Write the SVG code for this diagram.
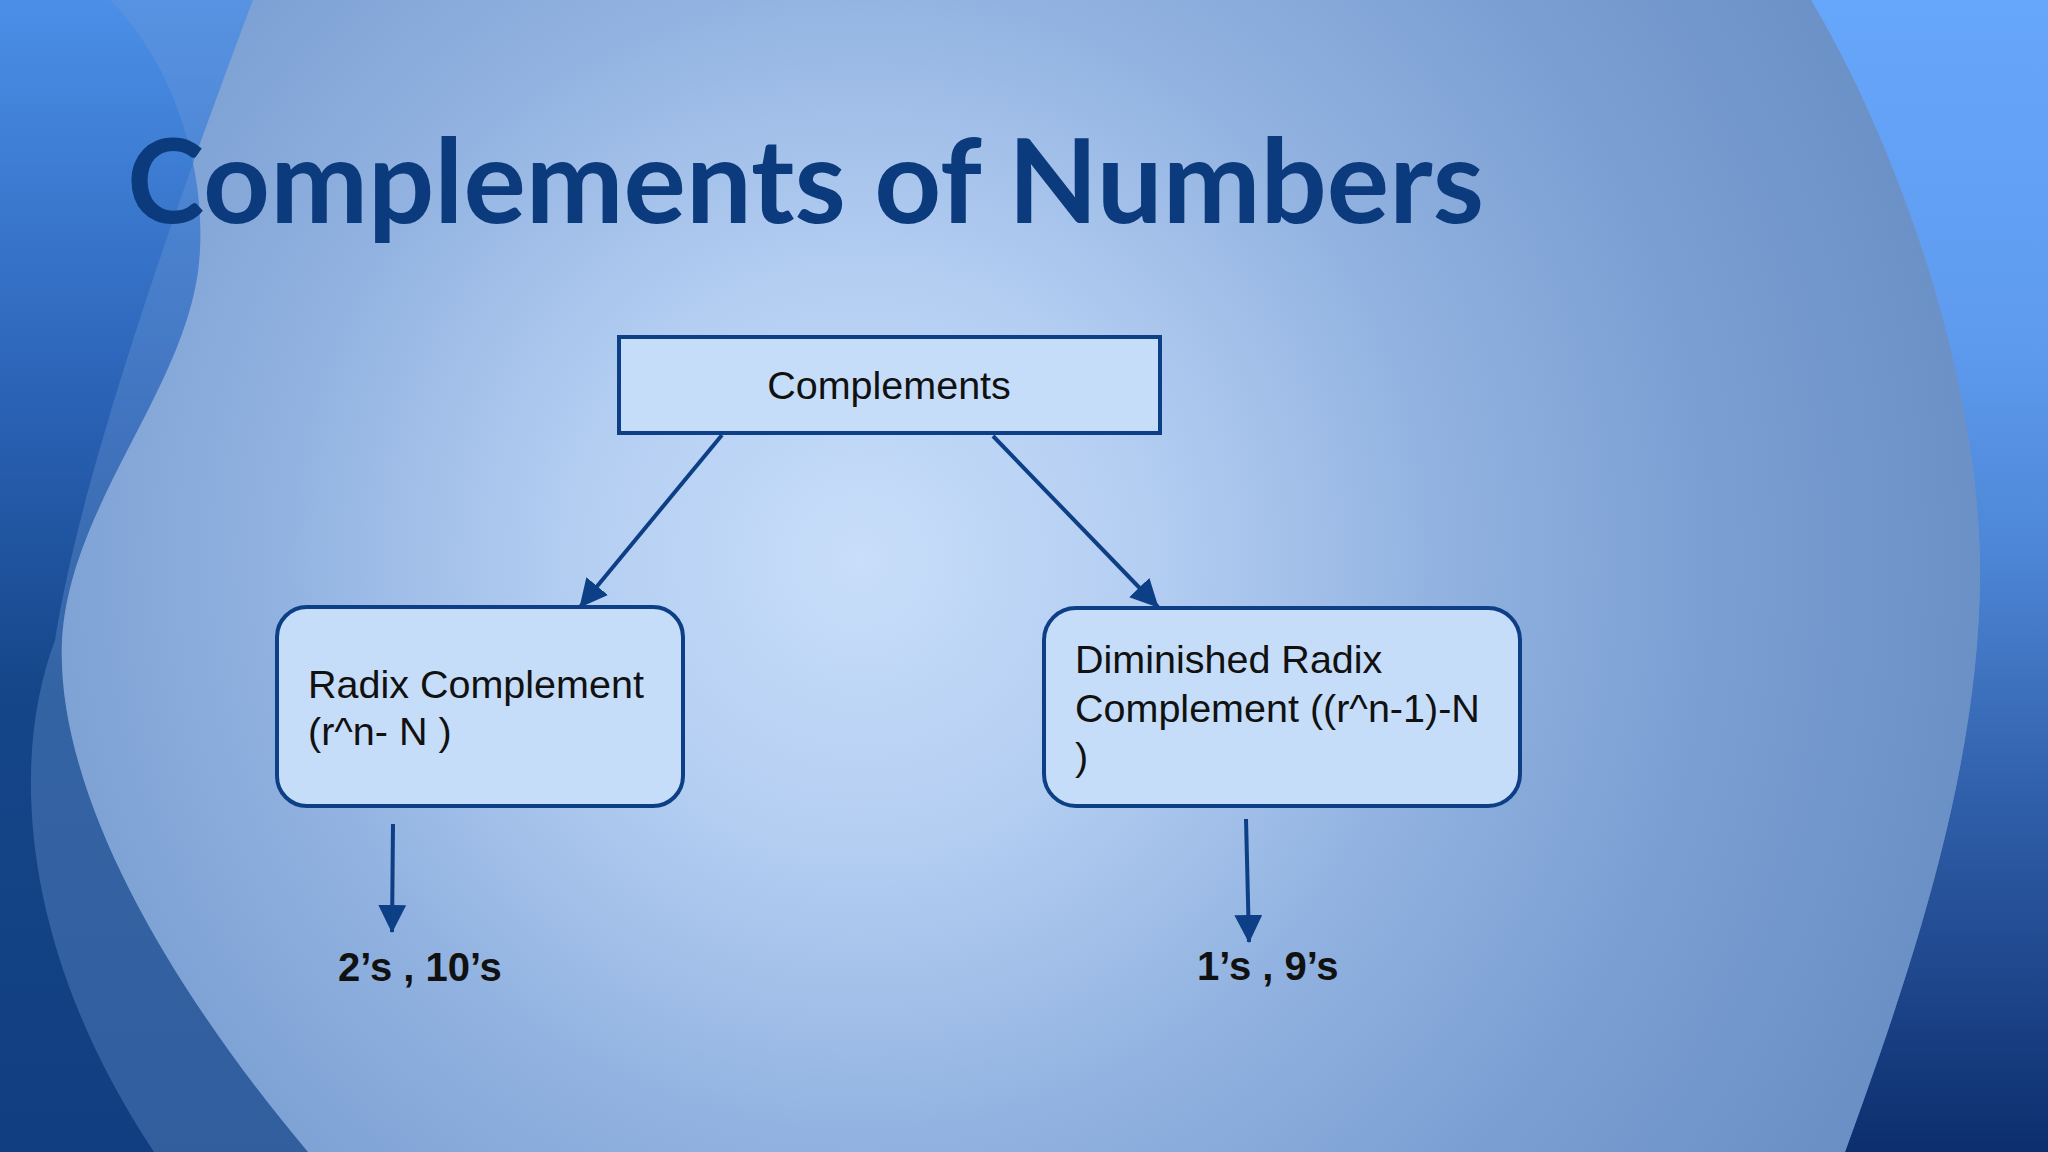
<svg xmlns="http://www.w3.org/2000/svg" width="2048" height="1152" viewBox="0 0 2048 1152">
  <defs>
    <linearGradient id="gLeft" x1="0" y1="0" x2="0" y2="1152" gradientUnits="userSpaceOnUse">
      <stop offset="0" stop-color="#4b8fe8"/>
      <stop offset="0.35" stop-color="#2a62b5"/>
      <stop offset="0.6" stop-color="#154689"/>
      <stop offset="1" stop-color="#113e80"/>
    </linearGradient>
    <linearGradient id="gRight" x1="0" y1="0" x2="0" y2="1152" gradientUnits="userSpaceOnUse">
      <stop offset="0" stop-color="#66a6fb"/>
      <stop offset="0.28" stop-color="#5f9cf0"/>
      <stop offset="0.48" stop-color="#4d86d6"/>
      <stop offset="0.7" stop-color="#2f5ea8"/>
      <stop offset="0.87" stop-color="#1c4388"/>
      <stop offset="1" stop-color="#0c2e6d"/>
    </linearGradient>
    <radialGradient id="gMain" cx="860" cy="560" r="1150" gradientUnits="userSpaceOnUse">
      <stop offset="0" stop-color="#c8defa"/>
      <stop offset="0.25" stop-color="#b4cef2"/>
      <stop offset="0.5" stop-color="#92b3e1"/>
      <stop offset="0.75" stop-color="#7a9ed2"/>
      <stop offset="1" stop-color="#6a8fc5"/>
    </radialGradient>
    <clipPath id="cE1">
      <path d="M253,0 C170,220 80,480 55,640 C10,760 20,950 154,1152 L2048,1152 L2048,0 Z"/>
    </clipPath>
    <clipPath id="cE2">
      <path d="M110,0 C170,60 205,160 200,250 C195,380 70,500 62,640 C55,800 180,1000 308,1152 L2048,1152 L2048,0 Z"/>
    </clipPath>
    <clipPath id="cER">
      <path d="M0,0 L1811,0 C1900,150 1980,380 1980,573 C1980,780 1900,1000 1845,1152 L0,1152 Z"/>
    </clipPath>
    <marker id="arrow" viewBox="0 0 28 28" refX="27" refY="14" markerWidth="28" markerHeight="28" markerUnits="userSpaceOnUse" orient="auto">
      <path d="M0,0 L28,14 L0,28 Z" fill="#0c3f86"/>
    </marker>
    <style>
      .box { fill: #c6ddf9; stroke: #0c3f86; stroke-width: 4; }
      .lbl { font-family: "Liberation Sans", Arial, sans-serif; font-size: 39.5px; fill: #111111; }
      .res { font-family: "Liberation Sans", Arial, sans-serif; font-size: 40px; font-weight: bold; fill: #111111; }
      .conn { stroke: #0c3f86; stroke-width: 4; fill: none; marker-end: url(#arrow); }
    </style>
  </defs>

  <g id="background">
    <rect x="0" y="0" width="1024" height="1152" fill="url(#gLeft)"/>
    <rect x="1024" y="0" width="1024" height="1152" fill="url(#gRight)"/>
    <g clip-path="url(#cER)">
      <rect x="0" y="0" width="2048" height="1152" fill="#6f9ad6" fill-opacity="0.35" clip-path="url(#cE1)"/>
      <rect x="0" y="0" width="2048" height="1152" fill="#6f9ad6" fill-opacity="0.35" clip-path="url(#cE2)"/>
      <g clip-path="url(#cE1)">
        <rect x="0" y="0" width="2048" height="1152" fill="url(#gMain)" clip-path="url(#cE2)"/>
      </g>
    </g>
  </g>

  <g id="title">
    <text x="127" y="223" font-family="Lato, 'Open Sans', sans-serif" font-weight="bold" font-size="116" fill="#0b3a7d" textLength="1357" lengthAdjust="spacingAndGlyphs">Complements of Numbers</text>
  </g>

  <g id="connectors">
    <line class="conn" x1="722" y1="435" x2="580" y2="607"/>
    <line class="conn" x1="993" y1="436" x2="1158" y2="607"/>
    <line class="conn" x1="393" y1="824" x2="392" y2="932"/>
    <line class="conn" x1="1246" y1="819" x2="1249" y2="942"/>
  </g>

  <g id="node-complements">
    <rect class="box" x="619" y="337" width="541" height="96"/>
    <text class="lbl" x="889" y="399" text-anchor="middle">Complements</text>
  </g>

  <g id="node-radix">
    <rect class="box" x="277" y="607" width="406" height="199" rx="30" ry="30"/>
    <text class="lbl" x="308" y="698">Radix Complement</text>
    <text class="lbl" x="308" y="745">(r^n- N )</text>
  </g>

  <g id="node-diminished">
    <rect class="box" x="1044" y="608" width="476" height="198" rx="32" ry="32"/>
    <text class="lbl" x="1075" y="673">Diminished Radix</text>
    <text class="lbl" x="1075" y="722">Complement ((r^n-1)-N</text>
    <text class="lbl" x="1075" y="770">)</text>
  </g>

  <g id="node-result-left">
    <text class="res" x="338" y="981">2’s , 10’s</text>
  </g>

  <g id="node-result-right">
    <text class="res" x="1197" y="980">1’s , 9’s</text>
  </g>
</svg>
